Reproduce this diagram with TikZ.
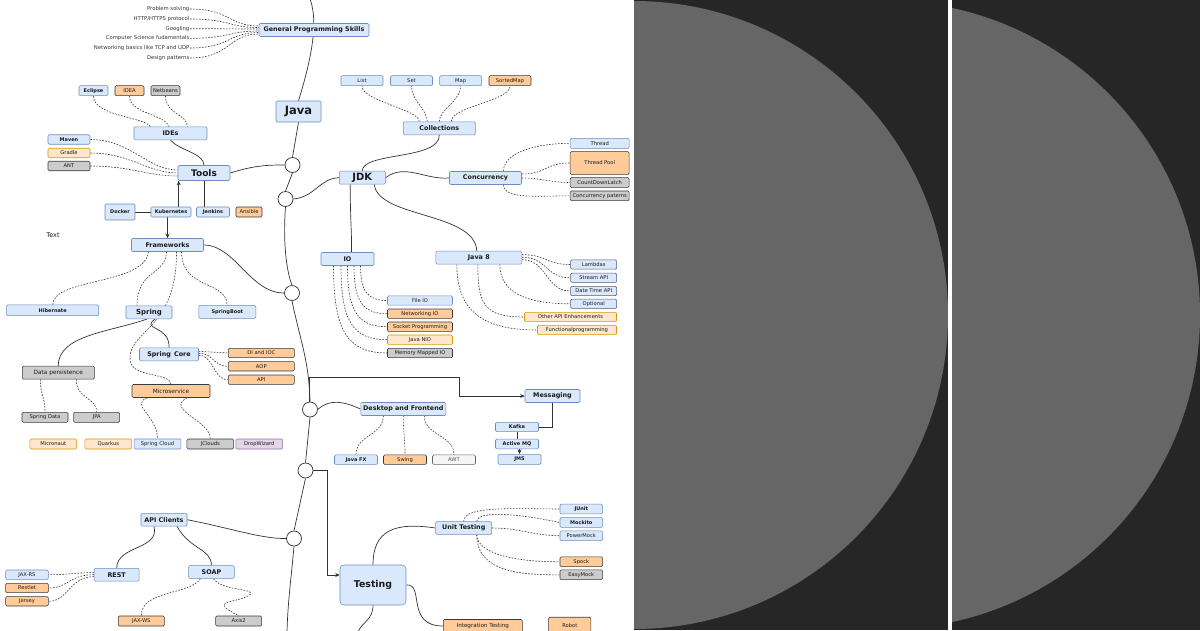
\documentclass[tikz,border=0pt]{standalone}
\usepackage{fontspec}
\setmainfont{DejaVu Sans}
\usetikzlibrary{arrows.meta}
\pgfdeclarelayer{back}
\pgfdeclarelayer{bg}
\pgfsetlayers{back,bg,main}
\definecolor{bluef}{HTML}{DAE8FC}
\definecolor{blueb}{HTML}{6C8EBF}
\definecolor{bluebd}{HTML}{4D5D73}
\definecolor{orangef}{HTML}{FFCC99}
\definecolor{darkb}{HTML}{36393D}
\definecolor{grayf}{HTML}{CCCCCC}
\definecolor{lorangef}{HTML}{FFE6CC}
\definecolor{lorangeb}{HTML}{D79B00}
\definecolor{purplef}{HTML}{E1D5E7}
\definecolor{purpleb}{HTML}{9673A6}
\definecolor{lgrayf}{HTML}{F5F5F5}
\definecolor{lgrayb}{HTML}{666666}
\definecolor{txtgray}{HTML}{555555}
\definecolor{txtc}{HTML}{1A1A1A}
\definecolor{linec}{HTML}{333333}
\definecolor{paneld}{HTML}{262626}
\definecolor{panelg}{HTML}{666666}
\tikzset{
  bx/.style={draw, rounded corners=1.2pt, inner sep=0pt, line width=0.55pt, align=center, text=txtc},
  cb/.style={bx, fill=bluef, draw=blueb},
  cbd/.style={bx, fill=bluef, draw=bluebd},
  co/.style={bx, fill=orangef, draw=darkb},
  cg/.style={bx, fill=grayf, draw=darkb},
  cl/.style={bx, fill=lorangef, draw=lorangeb},
  cp/.style={bx, fill=purplef, draw=purpleb},
  cw/.style={bx, fill=lgrayf, draw=lgrayb, text=txtgray},
  fs/.style={font=\fontsize{5.2}{6}\selectfont},
  fsb/.style={font=\fontsize{5}{6}\selectfont\bfseries},
  fm/.style={font=\fontsize{6.4}{7}\selectfont\bfseries},
  fmn/.style={font=\fontsize{5.8}{7}\selectfont},
  wh/.style 2 args={minimum width=#1, minimum height=#2},
  lefttxt/.style={anchor=east, inner sep=0.5pt, text=linec, font=\fontsize{5.3}{6}\selectfont},
  ln/.style={draw=linec, line width=0.7pt},
  dl/.style={draw=linec, line width=0.6pt, dash pattern=on 1.6pt off 1.4pt},
  arr/.style={ln, -{Stealth[length=4.5pt,width=4pt]}},
  ring/.style={circle, draw=linec, fill=white, line width=0.7pt, minimum size=15pt, inner sep=0pt},
}
\begin{document}
\begin{tikzpicture}[x=1pt,y=-1pt]
\useasboundingbox (0,0) rectangle (1200,630);
\begin{pgfonlayer}{back}
\fill[white] (0,0) rectangle (1200,630);
\fill[paneld] (634,0) rectangle (1200,630);
\begin{scope}
  \clip (634,0) rectangle (948,630);
  \fill[panelg] (634,315) circle (314pt);
\end{scope}
\begin{scope}
  \clip (952,0) rectangle (1200,630);
  \fill[panelg] (886,315) circle (314pt);
\end{scope}
\fill[white] (948,0) rectangle (952,630);
\end{pgfonlayer}

% ---------- spine coordinates & rings
\coordinate (sp0) at (310,-1);
\coordinate (sp9) at (287,631);
\coordinate (tdown) at (358,632);
\node[ring] (c1) at (292.5,165) {};
\node[ring] (c2) at (285.5,199) {};
\node[ring] (c3) at (292,293) {};
\node[ring] (c4) at (310,409.5) {};
\node[ring] (c5) at (305.5,470.5) {};
\node[ring] (c6) at (294,538.5) {};

% ---------- general skills
\node[lefttxt] (t1) at (190,9) {Problem solving};
\node[lefttxt] (t2) at (190,19) {HTTP/HTTPS protocol};
\node[lefttxt] (t3) at (190,28.7) {Googling};
\node[lefttxt] (t4) at (190,38.3) {Computer Science fudamentals};
\node[lefttxt] (t5) at (190,48) {Networking basics like TCP and UDP};
\node[lefttxt] (t6) at (190,58) {Design patterns};

\node[cb,fm,wh={110}{13}] (gps) at (314,30) {General Programming Skills};
\node[cb,wh={45}{21},font=\fontsize{11.5}{13}\selectfont\bfseries] (java) at (298.5,111.5) {Java};

% ---------- tools
\node[cb,fsb,wh={29}{10}] (eclipse) at (93.5,90.7) {Eclipse};
\node[co,fs,wh={29}{10}] (idea) at (129.5,90.7) {IDEA};
\node[cg,fs,wh={29}{10}] (netbeans) at (165.5,90.7) {Netbeans};
\node[cb,fm,wh={73}{13}] (ides) at (170.5,133.3) {IDEs};
\node[cb,fsb,wh={42}{9.5}] (maven) at (69,139.5) {Maven};
\node[cl,fs,wh={42}{9.5}] (gradle) at (69,153) {Gradle};
\node[cg,fs,wh={42}{9.5}] (ant) at (69,166) {ANT};
\node[cb,wh={52}{15},font=\fontsize{9}{10}\selectfont\bfseries] (tools) at (204,173) {Tools};
\node[cb,fsb,wh={30}{16}] (docker) at (120,212) {Docker};
\node[cb,fsb,wh={40}{10}] (kub) at (171,212) {Kubernetes};
\node[cb,fsb,wh={33}{10}] (jenkins) at (213,212) {Jenkins};
\node[co,fs,wh={26}{10}] (ansible) at (249,212) {Ansible};

% ---------- JDK
\node[cb,fs,wh={42}{10}] (list) at (362,80.7) {List};
\node[cb,fs,wh={42}{10}] (set) at (411.5,80.7) {Set};
\node[cb,fs,wh={42}{10}] (map) at (460.7,80.7) {Map};
\node[co,fs,wh={42}{10}] (sortedmap) at (510,80.7) {SortedMap};
\node[cb,fm,wh={72}{13}] (coll) at (439.3,128.3) {Collections};
\node[cb,wh={46}{13},font=\fontsize{10}{11}\selectfont\bfseries] (jdk) at (362.3,177.7) {JDK};
\node[cb,fm,wh={72}{13}] (conc) at (485.5,178) {Concurrency};
\node[cb,fs,wh={59}{10}] (thread) at (599.7,143.3) {Thread};
\node[co,fs,wh={59}{22.7}] (tpool) at (599.7,163) {Thread Pool};
\node[cg,fs,wh={59}{9.6}] (cdl) at (599.7,182.5) {CountDownLatch};
\node[cg,fs,wh={59}{9.6}] (cpat) at (599.7,195.8) {Concurrency paterns};
\node[cb,fm,wh={53}{13}] (io) at (347.5,259) {IO};
\node[cb,fm,wh={86}{13}] (j8) at (478.8,257.7) {Java 8};
\node[cbd,fs,wh={46}{9.2}] (lambdas) at (593.7,264.5) {Lambdas};
\node[cbd,fs,wh={46}{9.2}] (stream) at (593.7,277.8) {Stream API};
\node[cbd,fs,wh={46}{9.2}] (datetime) at (593.7,291) {Date Time API};
\node[cbd,fs,wh={46}{9.2}] (optional) at (593.7,303.8) {Optional};
\node[cl,fs,wh={92}{9.4}] (otherapi) at (570.5,317) {Other API Enhancements};
\node[cl,fs,wh={79}{9.2}] (funcp) at (577,330) {Functionalprogramming};
\node[cb,fs,wh={65}{9.4}] (fileio) at (420,300.5) {File IO};
\node[co,fs,wh={65}{9.4}] (netio) at (420,313.7) {Networking IO};
\node[co,fs,wh={65}{9.4}] (socket) at (420,326.7) {Socket Programming};
\node[cl,fs,wh={65}{9.4}] (nio) at (420,339.7) {Java NIO};
\node[cg,fs,wh={65}{9.4}] (mmio) at (420,353) {Memory Mapped IO};

% ---------- frameworks
\node[inner sep=0pt, font=\fontsize{6.5}{7}\selectfont, text=txtc] (txt) at (53,235) {Text};
\node[cb,fm,wh={72}{13}] (fw) at (167.5,245) {Frameworks};
\node[cb,fsb,wh={92}{10.7}] (hib) at (52.7,310.3) {Hibernate};
\node[cb,wh={46}{13},font=\fontsize{7}{8}\selectfont\bfseries] (spring) at (149,312.3) {Spring};
\node[cb,fsb,wh={57}{13}] (sboot) at (227.3,311.8) {SpringBoot};
\node[cb,fm,wh={59}{13}] (score) at (169,354.3) {Spring\enspace Core};
\node[co,fs,wh={66}{9.4}] (diioc) at (261.3,353) {DI and IOC};
\node[co,fs,wh={66}{9.4}] (aop) at (261.3,366.3) {AOP};
\node[co,fs,wh={66}{9.4}] (api) at (261.3,379.7) {API};
\node[cg,fmn,wh={72}{13}] (dp) at (58.3,372.7) {Data persistence};
\node[co,fmn,wh={78}{13}] (micro) at (171,391) {Microservice};
\node[cg,fs,wh={46}{10}] (sdata) at (45,417.3) {Spring Data};
\node[cg,fs,wh={46}{10}] (jpa) at (96.7,417.3) {JPA};
\node[cl,fs,wh={46.7}{10}] (micronaut) at (53.3,444) {Micronaut};
\node[cl,fs,wh={46.7}{10}] (quarkus) at (108.3,444) {Quarkus};
\node[cb,fs,wh={46.7}{10}] (scloud) at (157.5,444) {Spring Cloud};
\node[cg,fs,wh={46.7}{10}] (jclouds) at (210.3,444) {JClouds};
\node[cp,fs,wh={46.7}{10}] (dropw) at (259.3,444) {DropWizard};

% ---------- desktop, messaging
\node[cb,fm,wh={55}{13}] (msg) at (552.5,396) {Messaging};
\node[cb,fm,wh={85}{13}] (desk) at (403.3,409) {Desktop and Frontend};
\node[cb,fsb,wh={43}{9.5}] (javafx) at (356,459.7) {Java FX};
\node[co,fs,wh={43}{9.5}] (swing) at (405,459.7) {Swing};
\node[cw,fs,wh={43}{9.5}] (awt) at (454,459.7) {AWT};
\node[cb,fsb,wh={43}{9.4}] (kafka) at (517,427) {Kafka};
\node[cb,fsb,wh={43}{9.7}] (amq) at (517,444) {Active MQ};
\node[cb,fsb,wh={43}{10}] (jms) at (519.5,459.3) {JMS};

% ---------- API clients
\node[cb,fm,wh={46}{12.7}] (apic) at (164,519.7) {API Clients};
\node[cb,fm,wh={45}{12.7}] (rest) at (116.7,574.7) {REST};
\node[cb,fm,wh={45.6}{12.7}] (soap) at (211.5,572) {SOAP};
\node[cb,fs,wh={42.6}{9.4}] (jaxrs) at (27,574.7) {JAX-RS};
\node[co,fs,wh={42.6}{9.4}] (restlet) at (27,588) {Restlet};
\node[co,fs,wh={42.6}{9.4}] (jersey) at (27,601.3) {Jersey};
\node[co,fs,wh={46}{10}] (jaxws) at (141.3,621) {JAX-WS};
\node[cg,fs,wh={46}{10}] (axis) at (238.7,621) {Axis2};

% ---------- testing
\node[cb,fm,wh={56}{12.7}] (unit) at (463.7,528) {Unit Testing};
\node[cb,fsb,wh={42.6}{9.7}] (junit) at (581.3,509) {JUnit};
\node[cb,fsb,wh={42.6}{9.7}] (mockito) at (581.3,522.5) {Mockito};
\node[cb,fs,wh={42.6}{9.7}] (powermock) at (581.3,535.8) {PowerMock};
\node[co,fs,wh={42.6}{9.7}] (spock) at (581.3,561.8) {Spock};
\node[cg,fs,wh={42.6}{9.7}] (easymock) at (581.3,574.8) {EasyMock};
\node[cb,rounded corners=4pt,wh={66}{40},font=\fontsize{9.4}{11}\selectfont\bfseries] (test) at (373,585) {Testing};
\node[co,wh={79}{13},font=\fontsize{5.6}{7}\selectfont] (integ) at (482.8,626) {Integration Testing};
\node[co,fs,wh={42.3}{16.7}] (robot) at (569.8,625.6) {Robot};

% ================= connectors (behind the boxes)
\begin{pgfonlayer}{bg}
% spine
\draw[ln] (sp0) .. controls (320,25) and (308,70) .. (java.north);
\draw[ln] (java.south) -- (c1.north);
\draw[ln] (c1.south) -- (c2.north);
\draw[ln] (c2.south) .. controls (283,240) and (286,270) .. (c3.north);
\draw[ln] (c3.south) .. controls (300,340) and (309,360) .. (c4.north);
\draw[ln] (c4.south) -- (c5.north);
\draw[ln] (c5.south) -- (c6.north);
\draw[ln] (c6.south) .. controls (291,580) and (288,600) .. (sp9);

% general skills
\draw[dl] (t1.east) .. controls +(40,0) and +(-30,0) .. ([yshift=4pt]gps.west);
\draw[dl] (t2.east) .. controls +(40,0) and +(-30,0) .. ([yshift=2.5pt]gps.west);
\draw[dl] (t3.east) .. controls +(40,0) and +(-30,0) .. ([yshift=1pt]gps.west);
\draw[dl] (t4.east) .. controls +(40,0) and +(-30,0) .. ([yshift=-1pt]gps.west);
\draw[dl] (t5.east) .. controls +(40,0) and +(-30,0) .. ([yshift=-2.5pt]gps.west);
\draw[dl] (t6.east) .. controls +(40,0) and +(-30,0) .. ([yshift=-4pt]gps.west);

% tools
\draw[dl] (eclipse.south) .. controls +(0,20) and +(-8,-10) .. ([xshift=-20pt]ides.north);
\draw[dl] (idea.south) .. controls +(0,18) and +(-2,-12) .. ([xshift=-2pt]ides.north);
\draw[dl] (netbeans.south) .. controls +(0,18) and +(0,-12) .. ([xshift=17pt]ides.north);
\draw[dl] (maven.east) .. controls +(40,0) and +(-30,0) .. ([yshift=3pt]tools.west);
\draw[dl] (gradle.east) .. controls +(40,0) and +(-30,0) .. ([yshift=0pt]tools.west);
\draw[dl] (ant.east) .. controls +(40,0) and +(-30,0) .. ([yshift=-3pt]tools.west);
\draw[ln] (ides.south) .. controls +(8,10) and +(0,-12) .. (tools.north);
\draw[ln] (tools.east) .. controls +(25,-8) and +(-15,0) .. (c1.west);
\coordinate (ka) at ([xshift=1pt]tools.south west);
\draw[arr] (kub.north -| ka) -- (ka);
\draw[arr] (kub.south -| fw.north) -- (fw.north);
\draw[ln] (jenkins.north -| tools.south) -- (tools.south);
\draw[ln] (docker.east) -- (kub.west);

% JDK
\draw[ln] (c2.east) .. controls (315,197) and (320,178) .. (jdk.west);
\draw[ln] (jdk.north) .. controls (362,152) and (440,160) .. (coll.south);
\draw[ln] (jdk.east) .. controls (405,163) and (425,180) .. (conc.west);
\draw[ln] ([xshift=-12pt]jdk.south) .. controls (350,215) and (352,235) .. ([xshift=4pt]io.north);
\draw[ln] ([xshift=12pt]jdk.south) .. controls (378,218) and (475,212) .. ([xshift=-2pt]j8.north);
\draw[dl] ([xshift=-20pt]coll.north) .. controls +(0,-12) and +(0,15) .. (list.south);
\draw[dl] ([xshift=-12pt]coll.north) .. controls +(0,-12) and +(0,15) .. (set.south);
\draw[dl] (coll.north) .. controls +(0,-12) and +(0,15) .. (map.south);
\draw[dl] ([xshift=12pt]coll.north) .. controls +(0,-15) and +(0,15) .. (sortedmap.south);
\draw[dl] ([xshift=18pt]conc.north) .. controls +(0,-20) and +(-30,0) .. (thread.west);
\draw[dl] ([yshift=4pt]conc.east) .. controls +(25,0) and +(-25,0) .. (tpool.west);
\draw[dl] (conc.east) .. controls +(20,0) and +(-20,0) .. (cdl.west);
\draw[dl] ([xshift=18pt]conc.south) .. controls +(0,15) and +(-30,0) .. (cpat.west);
\draw[dl] ([xshift=13pt]io.south) .. controls +(0,25) and +(-20,0) .. (fileio.west);
\draw[dl] ([xshift=6.5pt]io.south) .. controls +(0,35) and +(-25,0) .. (netio.west);
\draw[dl] (io.south) .. controls +(0,45) and +(-30,0) .. (socket.west);
\draw[dl] ([xshift=-6.5pt]io.south) .. controls +(0,55) and +(-35,0) .. (nio.west);
\draw[dl] ([xshift=-14pt]io.south) .. controls +(0,65) and +(-40,0) .. (mmio.west);
\draw[dl] ([yshift=3pt]j8.east) .. controls +(25,0) and +(-25,0) .. (lambdas.west);
\draw[dl] ([yshift=0.5pt]j8.east) .. controls +(25,0) and +(-25,0) .. (stream.west);
\draw[dl] ([yshift=-2pt]j8.east) .. controls +(25,0) and +(-25,0) .. (datetime.west);
\draw[dl] ([xshift=21pt]j8.south) .. controls +(0,30) and +(-40,0) .. (optional.west);
\draw[dl] ([xshift=-1pt]j8.south) .. controls +(0,40) and +(-40,0) .. (otherapi.west);
\draw[dl] ([xshift=-22pt]j8.south) .. controls +(0,50) and +(-50,0) .. (funcp.west);

% frameworks
\draw[ln] (fw.east) .. controls (235,245) and (250,293) .. (c3.west);
\draw[dl] ([xshift=-19pt]fw.south) .. controls (145,285) and (53,278) .. (hib.north);
\draw[dl] ([xshift=-1pt]fw.south) .. controls (166,275) and (137,270) .. ([xshift=-12pt]spring.north);
\draw[dl] ([xshift=9pt]fw.south) .. controls (177,330) and (128,330) .. (130,360) .. controls (131,378) and (170,372) .. (micro.north);
\draw[dl] ([xshift=14pt]fw.south) .. controls (182,290) and (226,280) .. (sboot.north);
\draw[ln] ([xshift=6pt]spring.south) .. controls (140,330) and (170,325) .. (score.north);
\draw[ln] ([xshift=-2pt]spring.south) .. controls (110,332) and (58,335) .. (dp.north);
\draw[dl] ([yshift=3pt]score.east) .. controls +(15,0) and +(-15,0) .. (diioc.west);
\draw[dl] ([yshift=1pt]score.east) .. controls +(15,0) and +(-15,0) .. (aop.west);
\draw[dl] ([yshift=-1pt]score.east) .. controls +(15,0) and +(-15,0) .. (api.west);
\draw[dl] ([xshift=-18pt]dp.south) .. controls +(0,15) and +(0,-15) .. (sdata.north);
\draw[dl] ([xshift=18pt]dp.south) .. controls +(0,20) and +(0,-15) .. (jpa.north);
\draw[dl] ([xshift=-24pt]micro.south) .. controls (130,405) and (157,415) .. (scloud.north);
\draw[dl] ([xshift=16pt]micro.south) .. controls (165,410) and (210,420) .. (jclouds.north);

% desktop & messaging
\draw[arr] ([xshift=-1pt]c4.north) |- (459,377) |- (msg.west);
\draw[ln] (c4.east) .. controls (330,398) and (345,402) .. (desk.west);
\draw[dl] ([xshift=-20pt]desk.south) .. controls +(0,20) and +(0,-20) .. (javafx.north);
\draw[dl] (desk.south) .. controls +(0,20) and +(0,-20) .. (swing.north);
\draw[dl] ([xshift=21pt]desk.south) .. controls +(0,20) and +(0,-20) .. (awt.north);
\draw[ln] (msg.south) |- (kafka.east);
\draw[ln] (kafka.south) -- (amq.north);
\draw[arr] (amq.south -| jms.north) -- (jms.north);

% API clients
\draw[ln] (apic.east) .. controls (230,528) and (262,539) .. (c6.west);
\draw[ln] ([xshift=-10pt]apic.south) .. controls (160,550) and (117,545) .. (rest.north);
\draw[ln] ([xshift=13pt]apic.south) .. controls (190,550) and (211,548) .. (soap.north);
\draw[dl] ([yshift=2pt]rest.west) .. controls +(-20,0) and +(20,0) .. (jaxrs.east);
\draw[dl] (rest.west) .. controls +(-25,0) and +(20,0) .. (restlet.east);
\draw[dl] ([yshift=-2pt]rest.west) .. controls +(-25,0) and +(20,0) .. (jersey.east);
\draw[dl] ([xshift=-11pt]soap.south) .. controls (190,595) and (141,590) .. (jaxws.north);
\draw[dl] ([xshift=2pt]soap.south) .. controls (222,592) and (262,588) .. (248,596) .. controls (232,604) and (208,600) .. (axis.north);

% testing
\draw[arr] (c5.east) -| (327,575) -- ([yshift=10pt]test.west);
\draw[ln] (test.north) .. controls (373,530) and (395,522) .. (unit.west);
\draw[ln] (test.east) .. controls (425,583) and (405,626) .. (integ.west);
\draw[ln] (test.south) .. controls (373,620) and (362,622) .. (tdown);
\draw[dl] (unit.north) .. controls (463,505) and (520,509) .. (junit.west);
\draw[dl] ([xshift=13pt]unit.north) .. controls (478,510) and (520,514) .. (mockito.west);
\draw[dl] (unit.east) .. controls (520,528) and (530,535) .. (powermock.west);
\draw[dl] ([xshift=13pt]unit.south) .. controls (477,555) and (520,562) .. (spock.west);
\draw[dl] ([xshift=13pt]unit.south) .. controls (477,572) and (520,575) .. (easymock.west);
\end{pgfonlayer}
\end{tikzpicture}
\end{document}
